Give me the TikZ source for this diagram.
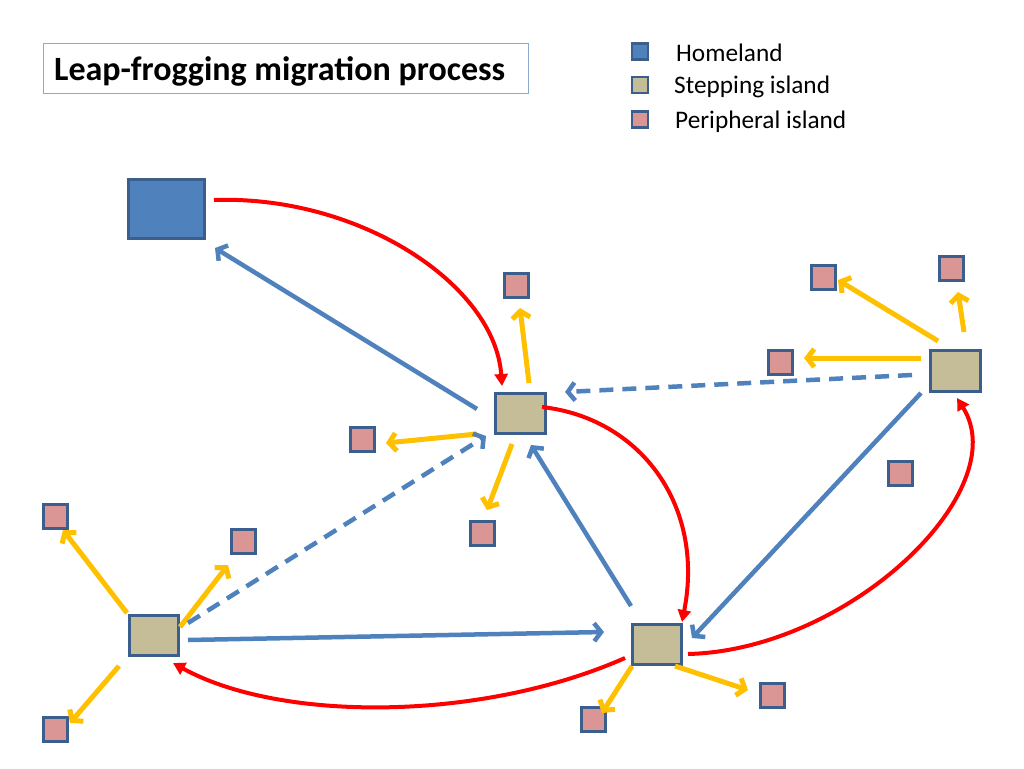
\documentclass[tikz,border=0pt]{standalone}
\usepackage{fontspec}
\setmainfont{Carlito}
\usetikzlibrary{arrows.meta,calc}
\definecolor{homefill}{HTML}{4F81BD}
\definecolor{stepfill}{HTML}{C4BD97}
\definecolor{perifill}{HTML}{D99694}
\definecolor{islborder}{HTML}{3B5E8C}
\definecolor{blu}{HTML}{4F81BD}
\definecolor{yel}{HTML}{FFC000}
\definecolor{rd}{HTML}{FF0000}
\definecolor{titleborder}{HTML}{8EA9CF}
\tikzset{
 isle/.style={draw=islborder, line width=3pt, inner sep=0pt},
 homebox/.style={isle, fill=homefill, minimum width=76pt, minimum height=59pt},
 stepbox/.style={isle, fill=stepfill, minimum width=49.5pt, minimum height=40.5pt},
 peribox/.style={isle, fill=perifill, minimum width=24pt, minimum height=24pt},
 legbox/.style={draw=islborder, line width=2.5pt, minimum size=16pt, inner sep=0pt},
 legtext/.style={anchor=base west, inner sep=0pt, font=\fontsize{25.3}{29}\selectfont},
 yarr/.style={draw=yel, line width=5pt, -{Straight Barb[length=7pt,width=18pt]}},
 barr/.style={draw=blu, line width=4.5pt, -{Straight Barb[length=7pt,width=18pt]}},
 rarr/.style={draw=rd, line width=4pt, -{Triangle[length=12pt,width=13pt]}},
 dashline/.style={dash pattern=on 14pt off 9pt},
}
\begin{document}
\begin{tikzpicture}[x=1pt,y=-1pt]
\useasboundingbox (0,0) rectangle (1024,768);
% title
\node[draw=titleborder, line width=1pt, minimum width=485pt, minimum height=50pt, anchor=north west, inner sep=0pt] (titlebox) at (43,43) {};
\node[anchor=base west, inner sep=0pt, font=\fontsize{34}{40}\selectfont\bfseries] (title) at (54,80) {Leap-frogging migration process};
% legend
\node[legbox, fill=homefill] (L1) at (640,51.5) {};
\node[legbox, fill=stepfill] (L2) at (640,85) {};
\node[legbox, fill=perifill] (L3) at (640,119.5) {};
\node[legtext] (T1) at (676,61) {Homeland};
\node[legtext] (T2) at (674,93) {Stepping island};
\node[legtext] (T3) at (675,128) {Peripheral island};
% islands
\node[homebox] (H) at (166.5,209) {};
\node[stepbox] (A) at (520.5,413.5) {};
\node[stepbox] (B) at (955.5,371) {};
\node[stepbox] (C) at (657,644.5) {};
\node[stepbox] (D) at (154,635.5) {};
\node[peribox] (P1) at (516.5,285.5) {};
\node[peribox] (P2) at (362.5,439.5) {};
\node[peribox] (P3) at (482.5,533.5) {};
\node[peribox] (P4) at (55.5,516.5) {};
\node[peribox] (P5) at (243,541.5) {};
\node[peribox] (P6) at (55.5,729.5) {};
\node[peribox] (P7) at (772.5,695) {};
\node[peribox] (P8) at (593,719.5) {};
\node[peribox] (P9) at (823.5,277) {};
\node[peribox] (P10) at (951.5,268.5) {};
\node[peribox] (P11) at (780.5,362.5) {};
\node[peribox] (P12) at (900.5,473.5) {};
% yellow arrows
\draw[yarr] ($(A)+(8.5,-30.5)$) -- ($(P1)+(3.5,22.5)$);
\draw[yarr] ($(A)+(-43.5,20.5)$) -- ($(P2)+(23.5,3.5)$);
\draw[yarr] ($(A)+(-8.5,30.5)$) -- ($(P3)+(4.5,-23.5)$);
\draw[yarr] ($(B)+(-17.5,-30)$) -- ($(P9)+(14.5,3)$);
\draw[yarr] ($(B)+(8.5,-39)$) -- ($(P10)+(6.5,23.5)$);
\draw[yarr] ($(B)+(-34.5,-13)$) -- ($(P11)+(23.5,-4.5)$);
\draw[yarr] ($(D)+(-27,-22.5)$) -- ($(P4)+(7.5,13.5)$);
\draw[yarr] ($(D)+(26,-8.5)$) -- ($(P5)+(-15,23.5)$);
\draw[yarr] ($(D)+(-35,30.5)$) -- ($(P6)+(14.5,-6.5)$);
\draw[yarr] ($(C)+(18,21.5)$) -- ($(P7)+(-24.5,-5)$);
\draw[yarr] ($(C)+(-25,21.5)$) -- ($(P8)+(9,-6.5)$);
% blue arrows
\draw[barr] ($(A)+(-43.5,-4.5)$) -- ($(H)+(48.5,39)$);
\draw[barr, dashline] ($(B)+(-43.5,4)$) -- ($(A)+(44.5,-21.5)$);
\draw[barr] ($(B)+(-34.5,22)$) -- ($(C)+(35,-6.5)$);
\draw[barr] ($(C)+(-26,-38.5)$) -- ($(A)+(10.5,31.5)$);
\draw[barr] ($(D)+(34,4.5)$) -- ($(C)+(-53,-12.5)$);
\draw[barr, dashline] ($(D)+(34,-12.5)$) -- ($(A)+(-34.5,22.5)$);
% red arrows
\draw[rarr] ($(H)+(47.5,-9)$) .. controls (360,195) and (495,285) .. ($(A)+(-18.5,-27.5)$);
\draw[rarr] ($(A)+(21.5,-6.5)$) .. controls (640,418) and (705,505) .. ($(C)+(25,-22.5)$);
\draw[rarr] ($(C)+(31,9.5)$) .. controls (850,650) and (1015,490) .. ($(B)+(1.5,27)$);
\draw[rarr] ($(C)+(-32,13.5)$) .. controls (480,722) and (280,722) .. ($(D)+(19,27.5)$);
\end{tikzpicture}
\end{document}
